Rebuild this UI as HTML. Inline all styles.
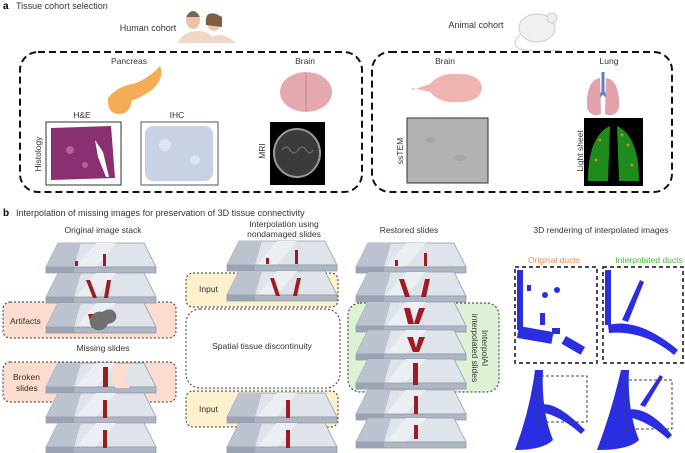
<!DOCTYPE html>
<html><head><meta charset="utf-8"><style>
body{margin:0;background:#fff}
svg{display:block;font-family:"Liberation Sans",sans-serif}
</style></head><body>
<svg width="685" height="453" viewBox="0 0 685 453" xmlns="http://www.w3.org/2000/svg">
<defs>
<g id="sl">
<polygon points="12,0 98,0 110,24 0,24" fill="#dfe3ea" stroke="#939cad" stroke-width="0.8"/>
<polygon points="12,0 35,0 28,24 0,24" fill="#bcc3cf"/>
<polygon points="50,0 70,0 50,24 30,24" fill="#ebeef3"/>
<rect x="0" y="24" width="110" height="6" fill="#aeb6c4" stroke="#939cad" stroke-width="0.8"/>
<rect x="0" y="24" width="28" height="6" fill="#9aa3b3"/>
</g>
</defs>
<g font-size="9" fill="#333">
<text x="3" y="9" font-weight="bold" font-size="10" fill="#000">a</text>
<text x="16" y="9">Tissue cohort selection</text>
<text x="148" y="31" text-anchor="middle">Human cohort</text>
<text x="476" y="28" text-anchor="middle">Animal cohort</text>
</g>
<!-- people -->
<ellipse cx="193" cy="20" rx="7" ry="9" fill="#e8c4ad"/><path d="M186 17 q7 -12 14 0" fill="#7a6650"/>
<ellipse cx="214" cy="22" rx="7" ry="9" fill="#ecc9b4"/><path d="M206 25 q-2 -18 16 -8 l0 10" fill="#7b5e44"/>
<path d="M178 43 q5 -12 20 -12 q10 0 14 6 q10 -6 24 6z" fill="#f0d6c6"/>
<!-- mouse -->
<ellipse cx="537" cy="28" rx="18" ry="14" fill="#f0f0f0" stroke="#ccc"/><ellipse cx="552" cy="18" rx="5" ry="5" fill="#eee" stroke="#ccc"/>
<path d="M520 35 q-20 20 40 15" stroke="#ccc" fill="none"/>
<!-- boxes a -->
<rect x="20" y="52" width="342" height="140" rx="18" fill="none" stroke="#111" stroke-width="2" stroke-dasharray="7,4"/>
<rect x="372" y="52" width="300" height="140" rx="18" fill="none" stroke="#111" stroke-width="2" stroke-dasharray="7,4"/>
<g font-size="8.5" fill="#333" text-anchor="middle">
<text x="129" y="64">Pancreas</text><text x="305" y="64">Brain</text>
<text x="445" y="64">Brain</text><text x="609" y="64">Lung</text>
<text x="82" y="118">H&amp;E</text><text x="177" y="118">IHC</text>
<text transform="translate(41,154) rotate(-90)">Histology</text>
<text transform="translate(265,151) rotate(-90)">MRI</text>
<text transform="translate(403,151) rotate(-90)">ssTEM</text>
<text transform="translate(583,151) rotate(-90)">Light sheet</text>
</g>
<path d="M108 98 q10 -12 25 -14 q15 -5 27 -18 q5 12 -8 24 q-15 10 -20 10 q-2 14 -13 14 q-12 0 -11 -16z" fill="#f2ad56"/>
<ellipse cx="306" cy="92" rx="26" ry="20" fill="#e4a9ad"/><line x1="306" y1="73" x2="306" y2="111" stroke="#c98389"/>
<path d="M412 90 l18 -6 q10 -12 30 -10 q20 0 22 14 q-2 14 -22 14 q-20 2 -30 -10 l-18 -4z" fill="#efb3b0"/>
<path d="M603 72 l0 20 m0 0 l-6 8 m6 -8 l6 8" stroke="#5f7fc4" stroke-width="3" fill="none"/>
<path d="M600 78 q-14 2 -13 30 q4 10 14 6z M606 78 q14 2 13 30 q-4 10 -14 6z" fill="#e1a2ab"/>
<rect x="46" y="122" width="75" height="63" fill="#fff" stroke="#333"/>
<path d="M51 128 l60 -2 l4 52 l-64 2z" fill="#8a2f6f"/>
<path d="M95 140 l8 12 l6 25 l-3 0 l-8 -20z" fill="#fff"/>
<circle cx="70" cy="150" r="4" fill="#b7609b"/><circle cx="85" cy="165" r="3" fill="#b7609b"/>
<rect x="141" y="122" width="77" height="63" fill="#fff" stroke="#555"/>
<rect x="145" y="126" width="68" height="55" rx="8" fill="#c9d2e3"/>
<circle cx="165" cy="145" r="6" fill="#dde3ef"/><circle cx="195" cy="160" r="5" fill="#dde3ef"/>
<rect x="270" y="122" width="55" height="63" fill="#000"/>
<ellipse cx="297" cy="153" rx="23" ry="24" fill="#3b3b3b" stroke="#999" stroke-width="2"/>
<path d="M282 150 q5 -6 8 0 q4 6 8 0 q4 -6 8 0 q4 6 7 0" stroke="#777" fill="none"/>
<rect x="407" y="118" width="81" height="65" fill="#b2b2b2" stroke="#333"/>
<ellipse cx="430" cy="140" rx="5" ry="3" fill="#a5a5a5"/><ellipse cx="460" cy="158" rx="6" ry="3" fill="#a5a5a5"/>
<rect x="584" y="118" width="59" height="68" fill="#000"/>
<path d="M610 126 q-22 10 -22 55 l20 0z M617 126 q22 10 22 55 l-20 0z" fill="#1d8c1d"/>
<g fill="#d08a1a"><circle cx="600" cy="140" r="1.5"/><circle cx="596" cy="160" r="1.5"/><circle cx="628" cy="145" r="1.5"/><circle cx="632" cy="165" r="1.5"/><circle cx="622" cy="135" r="1.5"/></g>
<!-- b -->
<g font-size="9" fill="#333">
<text x="3" y="216" font-weight="bold" font-size="10" fill="#000">b</text>
<text x="16" y="216">Interpolation of missing images for preservation of 3D tissue connectivity</text>
</g>
<g font-size="8.5" fill="#333" text-anchor="middle">
<text x="103" y="233">Original image stack</text>
<text x="284" y="227">Interpolation using</text><text x="284" y="237">nondamaged slides</text>
<text x="409" y="233">Restored slides</text>
<text x="601" y="233">3D rendering of interpolated images</text>
<text x="554" y="263" fill="#f0874f">Original ducts</text>
<text x="649" y="263" fill="#4cb43c">Interpolated ducts</text>
<text x="103" y="351">Missing slides</text>
</g>
<rect x="3" y="302" width="173" height="36" rx="7" fill="#fbdcce" stroke="#333" stroke-dasharray="2,2"/>
<rect x="3" y="362" width="173" height="40" rx="7" fill="#fbdcce" stroke="#333" stroke-dasharray="2,2"/>
<rect x="186" y="273" width="152" height="34" rx="7" fill="#fdf1cd" stroke="#333" stroke-dasharray="2,2"/>
<rect x="186" y="309" width="154" height="79" rx="14" fill="#fff" stroke="#333" stroke-dasharray="2,2"/>
<rect x="186" y="391" width="152" height="36" rx="7" fill="#fdf1cd" stroke="#333" stroke-dasharray="2,2"/>
<rect x="348" y="303" width="151" height="89" rx="12" fill="#ddf1d4" stroke="#333" stroke-dasharray="2,2"/>
<g fill="#9e1b22">
<use href="#sl" x="46" y="243"/><rect x="75" y="261" width="3" height="5"/><rect x="103" y="254" width="3" height="12"/>
<use href="#sl" x="46" y="273"/><polygon points="86,280 90,280 97,298 93,298"/><polygon points="107,280 111,280 108,298 104,298"/>
<use href="#sl" x="46" y="303"/><polygon points="88,314 94,314 98,328 92,328"/><polygon points="100,314 106,314 104,328 98,328"/>
<path d="M90 318 q5 -8 12 -6 q10 -6 14 2 q2 8 -8 10 q-4 8 -12 6 q-8 -4 -6 -12z" fill="#707070"/>
<use href="#sl" x="46" y="363"/><rect x="103" y="367" width="5" height="20"/>
<path d="M116 364 q-10 12 0 24 l14 0 q-10 -12 2 -24z" fill="#fbdcce"/>
<use href="#sl" x="46" y="393"/><rect x="103" y="400" width="4" height="18"/>
<use href="#sl" x="46" y="423"/><rect x="103" y="430" width="4" height="18"/>
<use href="#sl" x="227" y="241"/><rect x="266" y="258" width="3" height="6"/><rect x="295" y="250" width="3" height="14"/>
<use href="#sl" x="227" y="271"/><polygon points="270,278 274,278 280,296 276,296"/><polygon points="297,278 301,278 297,296 293,296"/>
<use href="#sl" x="227" y="393"/><rect x="286" y="400" width="4" height="18"/>
<use href="#sl" x="227" y="423"/><rect x="286" y="430" width="4" height="18"/>
<use href="#sl" x="356" y="243"/><rect x="395" y="260" width="3" height="6"/><rect x="424" y="253" width="3" height="13"/>
<use href="#sl" x="356" y="272"/><polygon points="399,279 404,279 410,297 405,297"/><polygon points="425,279 430,279 426,297 421,297"/>
<use href="#sl" x="356" y="302"/><polygon points="404,308 410,308 414,324 408,324"/><polygon points="419,308 425,308 419,324 414,324"/>
<use href="#sl" x="356" y="330"/><polygon points="407,337 413,337 416,348 419,337 425,337 419,352 413,352"/>
<use href="#sl" x="356" y="359"/><rect x="413" y="363" width="5" height="22"/>
<use href="#sl" x="356" y="390"/><rect x="414" y="396" width="4" height="18"/>
<use href="#sl" x="356" y="418"/><rect x="414" y="425" width="4" height="14"/>
</g>
<g font-size="8.5" fill="#333">
<text x="10" y="324">Artifacts</text>
<text x="13" y="380">Broken</text><text x="16" y="391">slides</text>
<text x="199" y="292">Input</text><text x="199" y="412">Input</text>
<text x="262" y="349" text-anchor="middle">Spatial tissue discontinuity</text>
<text transform="translate(482,348) rotate(90)" text-anchor="middle">InterpolAI</text>
<text transform="translate(472,348) rotate(90)" text-anchor="middle">interpolated slides</text>
</g>
<rect x="515" y="267" width="82" height="96" fill="none" stroke="#111" stroke-width="1.5" stroke-dasharray="4,3"/>
<rect x="603" y="267" width="80" height="96" fill="none" stroke="#111" stroke-width="1.5" stroke-dasharray="4,3"/>
<g fill="#2a2ee0">
<rect x="517" y="270" width="6" height="60"/><rect x="519" y="326" width="35" height="12" transform="rotate(10 519 326)"/>
<rect x="566" y="336" width="22" height="9" transform="rotate(30 566 336)"/><circle cx="545" cy="295" r="3"/><circle cx="557" cy="290" r="3"/><rect x="540" y="313" width="5" height="12"/>
<rect x="552" y="328" width="8" height="6"/><rect x="527" y="285" width="4" height="6"/>
<rect x="605" y="270" width="6" height="55"/><path d="M608 325 q30 -8 70 25 l-4 5 q-30 -25 -65 -22z"/><path d="M622 320 l18 -40 l4 2 l-16 40z"/>
<path d="M515 450 q15 -40 20 -80 l8 0 q-2 40 10 70 q-10 10 -38 10z"/><path d="M540 405 q15 -5 45 25 l-4 4 q-20 -18 -40 -22z"/>
<path d="M597 450 q15 -40 24 -80 l8 0 q-2 40 10 70 q-10 10 -42 10z"/><path d="M627 410 q20 -5 45 25 l-4 4 q-20 -18 -40 -22z"/><path d="M640 405 l20 -30 l3 2 l-18 30z"/>
</g>
<rect x="536" y="376" width="51" height="46" fill="none" stroke="#345" stroke-dasharray="3,2"/>
<rect x="624" y="380" width="48" height="49" fill="none" stroke="#345" stroke-dasharray="3,2"/>
</svg>
</body></html>
